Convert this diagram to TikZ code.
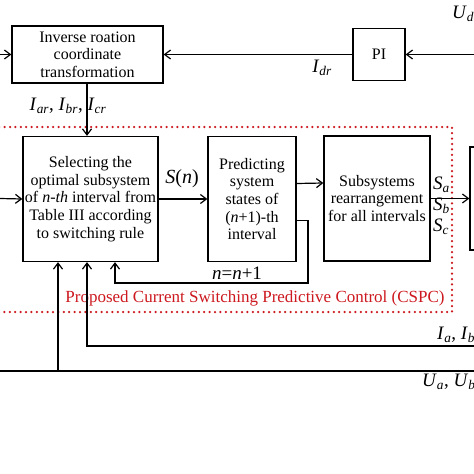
\documentclass[tikz,border=0pt]{standalone}
\usepackage{fontspec}
\setmainfont{Liberation Serif}
\usetikzlibrary{arrows.meta, calc}

\definecolor{cspcred}{RGB}{204,24,30}
\newcommand{\vsub}[2]{\textit{#1}\textsubscript{\textit{#2}}}

\begin{document}
\begin{tikzpicture}
      [x=1pt,y=-1pt
      ,box/.style={draw=black,line width=1.3pt,align=center,inner sep=1pt,
         font=\fontsize{16}{17.6}\selectfont}
      ,arr/.style={line width=1.2pt,-{Straight Barb[length=6pt,width=9pt,line width=1.2pt]}}
      ,wire/.style={line width=1.2pt}
      ,lbl/.style={font=\fontsize{19}{20}\selectfont,inner sep=1pt}
      ]
        \useasboundingbox (0,0) rectangle (474,474);

        % blocks
        \node[box,minimum width=151pt,minimum height=57pt] (inv) at (87.5,54.5)
            {Inverse roation\\coordinate\\transformation};
        \node[box,minimum width=52pt,minimum height=52pt] (pi) at (379,54.5) {PI};
        \node[box,minimum width=135pt,minimum height=125pt] (sel) at (90.5,199)
            {Selecting the\\optimal subsystem\\of \textit{n-th} interval from\\Table III according\\to switching rule};
        \node[box,minimum width=88pt,minimum height=125pt] (pred) at (252,199)
            {Predicting\\system\\states of\\(\textit{n}+1)-th\\interval};
        \node[box,minimum width=106pt,minimum height=125pt] (sub) at (377,198.5)
            {Subsystems\\rearrangement\\for all intervals};
        \node[box,minimum width=40pt,minimum height=103pt] (inv2) at (490,198.5) {};

        % CSPC frame
        \draw[cspcred,line width=2.5pt,line cap=round,dash pattern=on 0pt off 5.4pt]
            (-5,127) rectangle (452,312);
        \node[lbl,text=cspcred,font=\fontsize{17}{18}\selectfont] (cspc) at (255,298)
            {Proposed Current Switching Predictive Control (CSPC)};

        % free ends
        \coordinate (invin) at (0,54.5);
        \coordinate (selin) at (0,198.5);
        \coordinate (udc) at (474,54.5);
        \coordinate (iin) at (474,346);
        \coordinate (uw) at (0,371);
        \coordinate (ue) at (474,371);
        \coordinate (utap) at (58,371);
        \coordinate (loop) at (308,283);

        % connectors
        \draw[arr] (invin) -- (inv.west);
        \draw[arr] (udc) -- (pi.east);
        \draw[arr] (pi.west) -- (inv.east);
        \draw[arr] ([xshift=-0.5pt]inv.south) -- ([xshift=-3.5pt]sel.north);
        \draw[arr] (selin) -- (sel.west);
        \draw[arr] (sel.east) -- (pred.west);
        \draw[arr] ([yshift=15.5pt]pred.east) -- ([yshift=15.5pt]sub.west);
        \draw[arr] (sub.east) -- (inv2.west);
        \draw[arr] ([yshift=-21.5pt]pred.east) -| (loop) -| ([xshift=24.5pt]sel.south);
        \draw[arr] (iin) -| ([xshift=-3.5pt]sel.south);
        \draw[wire] (uw) -- (ue);
        \draw[arr] (utap) -- ([xshift=-32.5pt]sel.south);

        % labels
        \node[lbl] (iref) at (68,106) {\vsub{I}{ar}, \vsub{I}{br}, \vsub{I}{cr}};
        \node[lbl] (idr) at (322,68) {\vsub{I}{dr}};
        \node[lbl,anchor=west] (udclbl) at (451,14) {\vsub{U}{dc}};
        \node[lbl,font=\fontsize{20}{21}\selectfont] (sn) at (182,179) {\textit{S}(\textit{n})};
        \node[lbl,anchor=west] (sa) at (432,185) {\vsub{S}{a}};
        \node[lbl,anchor=west] (sb) at (432,206) {\vsub{S}{b}};
        \node[lbl,anchor=west] (sc) at (432,227) {\vsub{S}{c}};
        \node[lbl] (nn) at (237,273) {\textit{n}=\textit{n}+1};
        \node[lbl,anchor=west] (ilbl) at (436,335) {\vsub{I}{a}, \vsub{I}{b}, \vsub{I}{c}};
        \node[lbl,anchor=west] (ulbl) at (421,382) {\vsub{U}{a}, \vsub{U}{b}, \vsub{U}{c}};
\end{tikzpicture}
\end{document}
